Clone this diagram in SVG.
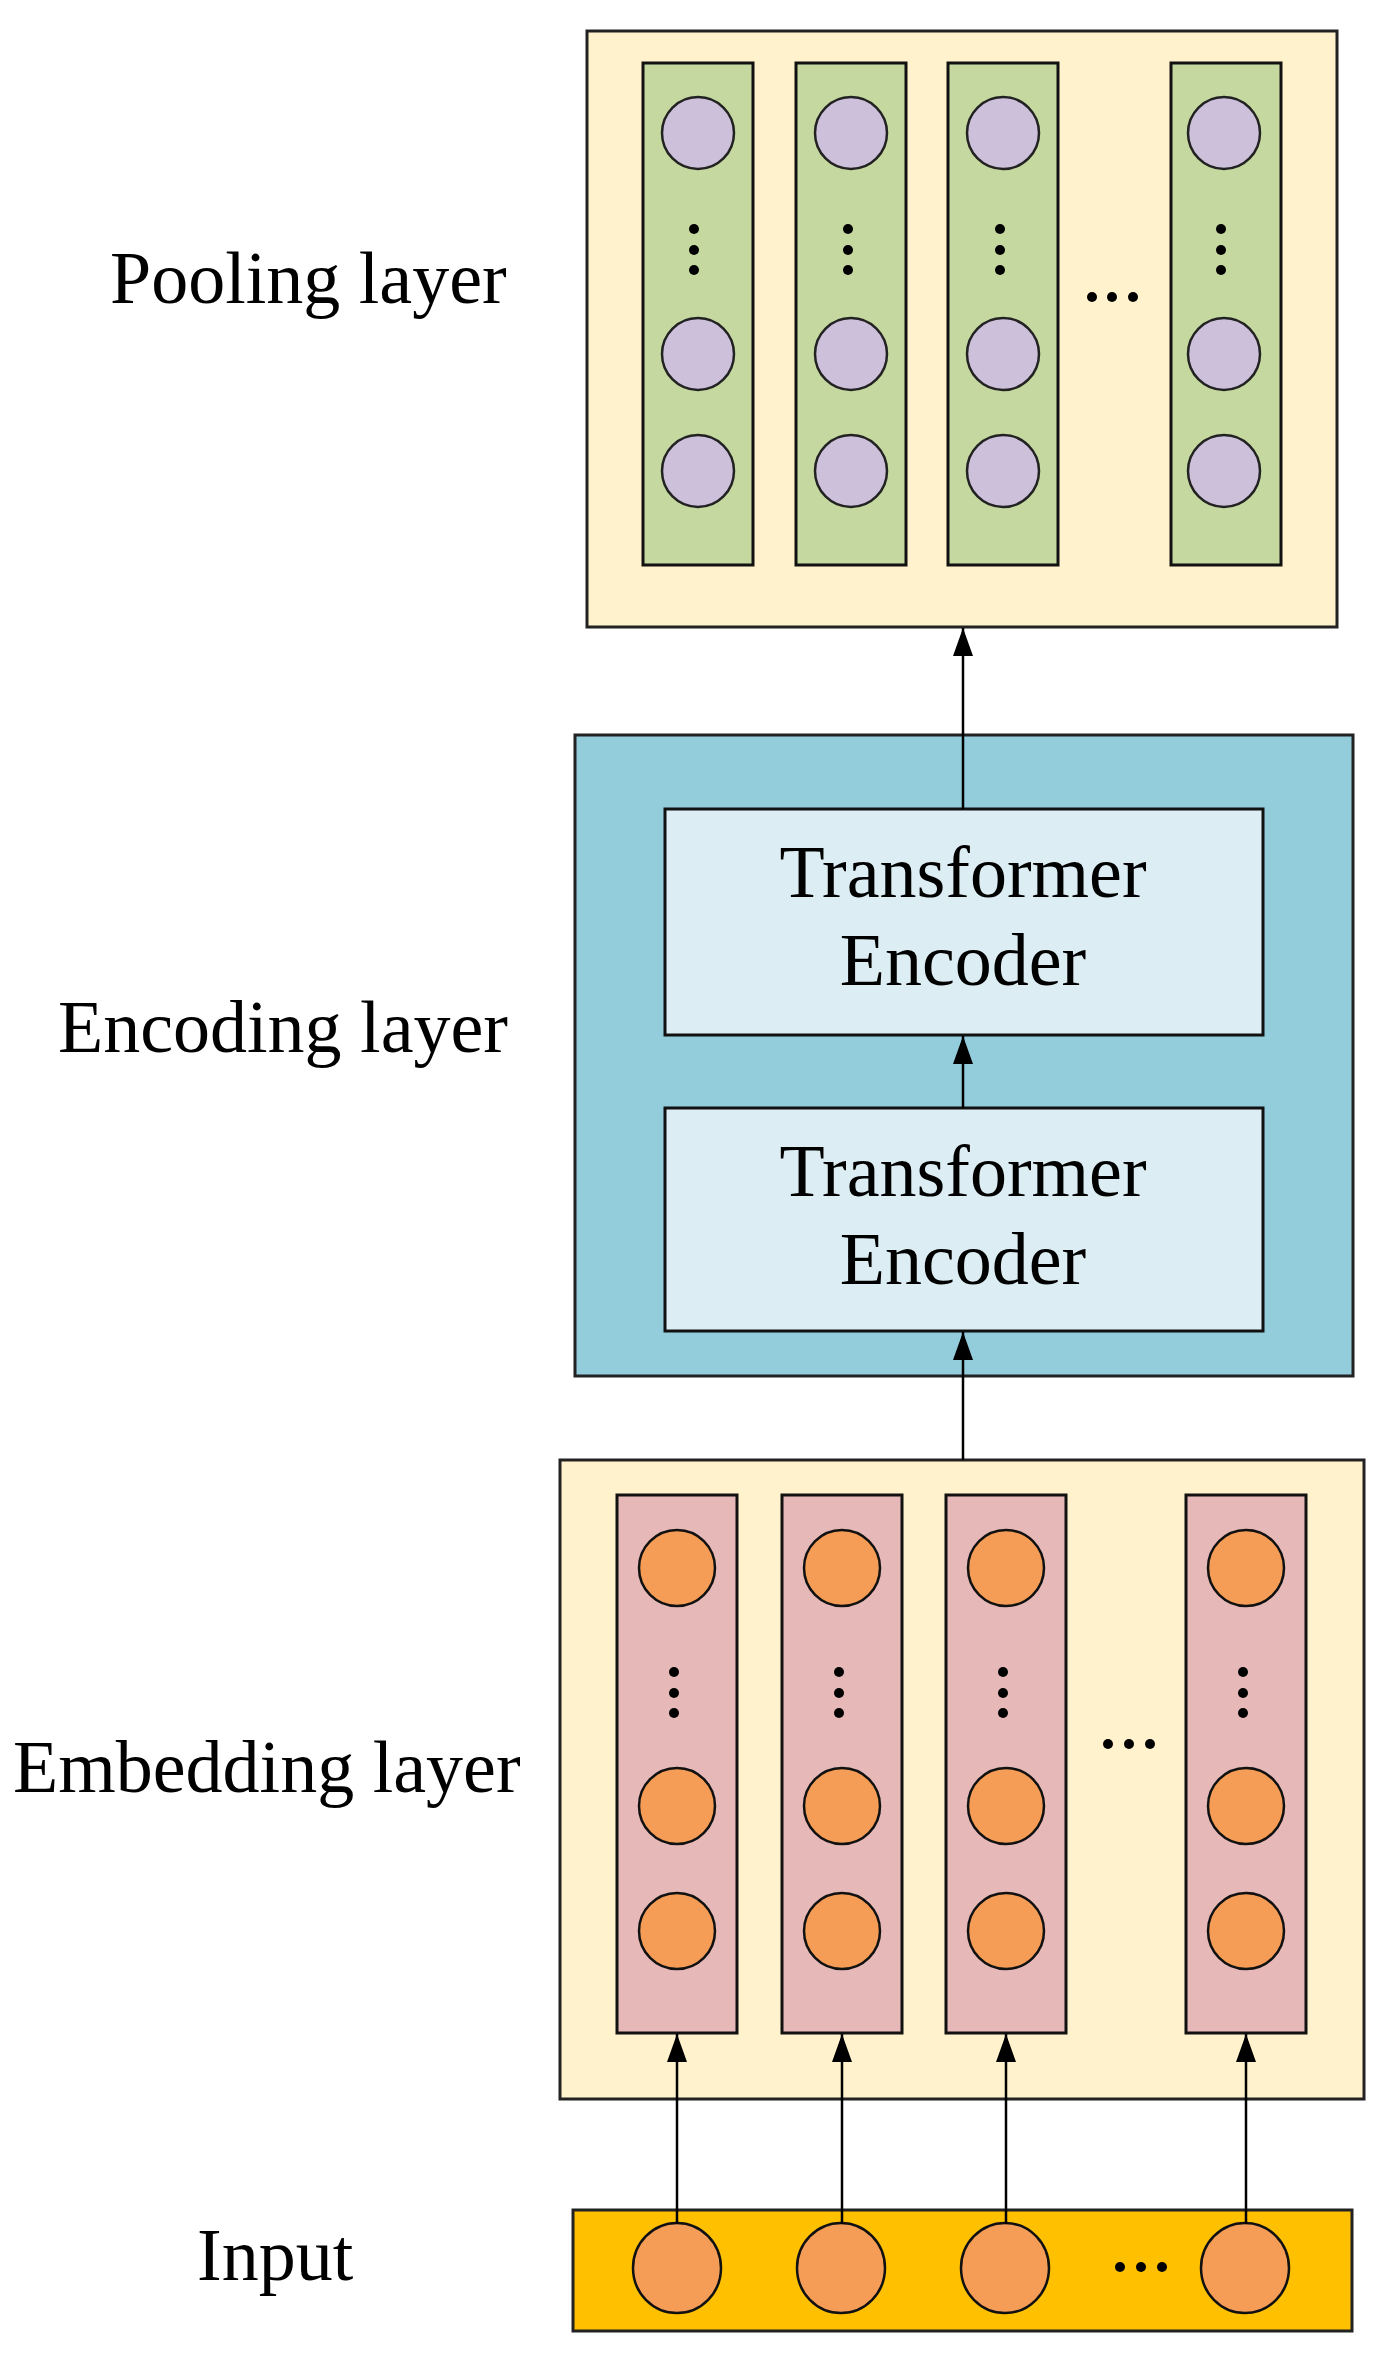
<svg xmlns="http://www.w3.org/2000/svg" width="1382" height="2362" viewBox="0 0 1382 2362">
<style>
.lbl{font-family:"Liberation Serif","Times New Roman",serif;font-size:74px;fill:#000}
.mid{text-anchor:middle}
.outerY{fill:#FFF2CC;stroke:#222;stroke-width:3}
.green{fill:#C5D8A0;stroke:#111;stroke-width:3}
.pink{fill:#E6B9B8;stroke:#111;stroke-width:3}
.purple{fill:#CCC0DA;stroke:#222;stroke-width:2.5}
.orange{fill:#F59D56;stroke:#111;stroke-width:2.5}
.enc{fill:#93CDDC;stroke:#222;stroke-width:3}
.tf{fill:#DCEEF3;stroke:#111;stroke-width:3}
.inp{fill:#FFC000;stroke:#222;stroke-width:3}
.dot{fill:#000}
.conn{stroke:#000;stroke-width:2.5;fill:none;marker-end:url(#ah)}
</style>
<defs>
<marker id="ah" viewBox="0 0 28 22" refX="28" refY="11" markerWidth="28" markerHeight="22" markerUnits="userSpaceOnUse" orient="auto">
<path d="M0,1 L28,11 L0,21 Z" fill="#000"/>
</marker>
</defs>

<text class="lbl" x="110" y="303">Pooling layer</text>
<text class="lbl" x="58" y="1052">Encoding layer</text>
<text class="lbl" x="13" y="1792">Embedding layer</text>
<text class="lbl" x="197" y="2280">Input</text>

<g id="pooling">
<rect class="outerY" x="587" y="31" width="750" height="596"/>
<g id="pool-col1">
<rect class="green" x="643" y="63" width="110" height="502"/>
<circle class="purple" cx="698" cy="133" r="36"/>
<circle class="dot" cx="694" cy="229" r="5"/><circle class="dot" cx="694" cy="250" r="5"/><circle class="dot" cx="694" cy="270" r="5"/>
<circle class="purple" cx="698" cy="354" r="36"/>
<circle class="purple" cx="698" cy="471" r="36"/>
</g>
<g id="pool-col2">
<rect class="green" x="796" y="63" width="110" height="502"/>
<circle class="purple" cx="851" cy="133" r="36"/>
<circle class="dot" cx="848" cy="229" r="5"/><circle class="dot" cx="848" cy="250" r="5"/><circle class="dot" cx="848" cy="270" r="5"/>
<circle class="purple" cx="851" cy="354" r="36"/>
<circle class="purple" cx="851" cy="471" r="36"/>
</g>
<g id="pool-col3">
<rect class="green" x="948" y="63" width="110" height="502"/>
<circle class="purple" cx="1003" cy="133" r="36"/>
<circle class="dot" cx="1000" cy="229" r="5"/><circle class="dot" cx="1000" cy="250" r="5"/><circle class="dot" cx="1000" cy="270" r="5"/>
<circle class="purple" cx="1003" cy="354" r="36"/>
<circle class="purple" cx="1003" cy="471" r="36"/>
</g>
<circle class="dot" cx="1092" cy="297" r="5"/><circle class="dot" cx="1112" cy="297" r="5"/><circle class="dot" cx="1133" cy="297" r="5"/>
<g id="pool-col4">
<rect class="green" x="1171" y="63" width="110" height="502"/>
<circle class="purple" cx="1224" cy="133" r="36"/>
<circle class="dot" cx="1221" cy="229" r="5"/><circle class="dot" cx="1221" cy="250" r="5"/><circle class="dot" cx="1221" cy="270" r="5"/>
<circle class="purple" cx="1224" cy="354" r="36"/>
<circle class="purple" cx="1224" cy="471" r="36"/>
</g>
</g>

<g id="encoding">
<rect class="enc" x="575" y="735" width="778" height="641"/>
<g id="encoder1">
<rect class="tf" x="665" y="809" width="598" height="226"/>
<text class="lbl mid" x="963" y="897">Transformer</text>
<text class="lbl mid" x="963" y="985">Encoder</text>
</g>
<g id="encoder2">
<rect class="tf" x="665" y="1108" width="598" height="223"/>
<text class="lbl mid" x="963" y="1196">Transformer</text>
<text class="lbl mid" x="963" y="1284">Encoder</text>
</g>
</g>

<g id="embedding">
<rect class="outerY" x="560" y="1460" width="804" height="639"/>
<g id="emb-col1">
<rect class="pink" x="617" y="1495" width="120" height="538"/>
<circle class="orange" cx="677" cy="1568" r="38"/>
<circle class="dot" cx="674" cy="1672" r="5"/><circle class="dot" cx="674" cy="1693" r="5"/><circle class="dot" cx="674" cy="1713" r="5"/>
<circle class="orange" cx="677" cy="1806" r="38"/>
<circle class="orange" cx="677" cy="1931" r="38"/>
</g>
<g id="emb-col2">
<rect class="pink" x="782" y="1495" width="120" height="538"/>
<circle class="orange" cx="842" cy="1568" r="38"/>
<circle class="dot" cx="839" cy="1672" r="5"/><circle class="dot" cx="839" cy="1693" r="5"/><circle class="dot" cx="839" cy="1713" r="5"/>
<circle class="orange" cx="842" cy="1806" r="38"/>
<circle class="orange" cx="842" cy="1931" r="38"/>
</g>
<g id="emb-col3">
<rect class="pink" x="946" y="1495" width="120" height="538"/>
<circle class="orange" cx="1006" cy="1568" r="38"/>
<circle class="dot" cx="1003" cy="1672" r="5"/><circle class="dot" cx="1003" cy="1693" r="5"/><circle class="dot" cx="1003" cy="1713" r="5"/>
<circle class="orange" cx="1006" cy="1806" r="38"/>
<circle class="orange" cx="1006" cy="1931" r="38"/>
</g>
<circle class="dot" cx="1108" cy="1744" r="5"/><circle class="dot" cx="1129" cy="1744" r="5"/><circle class="dot" cx="1150" cy="1744" r="5"/>
<g id="emb-col4">
<rect class="pink" x="1186" y="1495" width="120" height="538"/>
<circle class="orange" cx="1246" cy="1568" r="38"/>
<circle class="dot" cx="1243" cy="1672" r="5"/><circle class="dot" cx="1243" cy="1693" r="5"/><circle class="dot" cx="1243" cy="1713" r="5"/>
<circle class="orange" cx="1246" cy="1806" r="38"/>
<circle class="orange" cx="1246" cy="1931" r="38"/>
</g>
</g>

<g id="input">
<rect class="inp" x="573" y="2210" width="779" height="121"/>
<ellipse class="orange" cx="677" cy="2268" rx="44" ry="45"/>
<ellipse class="orange" cx="841" cy="2268" rx="44" ry="45"/>
<ellipse class="orange" cx="1005" cy="2268" rx="44" ry="45"/>
<circle class="dot" cx="1120" cy="2267" r="5"/><circle class="dot" cx="1141" cy="2267" r="5"/><circle class="dot" cx="1162" cy="2267" r="5"/>
<ellipse class="orange" cx="1245" cy="2268" rx="44" ry="45"/>
</g>

<g id="connectors">
<line class="conn" x1="677" y1="2224" x2="677" y2="2034"/>
<line class="conn" x1="842" y1="2224" x2="842" y2="2034"/>
<line class="conn" x1="1006" y1="2224" x2="1006" y2="2034"/>
<line class="conn" x1="1246" y1="2224" x2="1246" y2="2034"/>
<line class="conn" x1="963" y1="1460" x2="963" y2="1332"/>
<line class="conn" x1="963" y1="1108" x2="963" y2="1036"/>
<line class="conn" x1="963" y1="809" x2="963" y2="628"/>
</g>
</svg>
